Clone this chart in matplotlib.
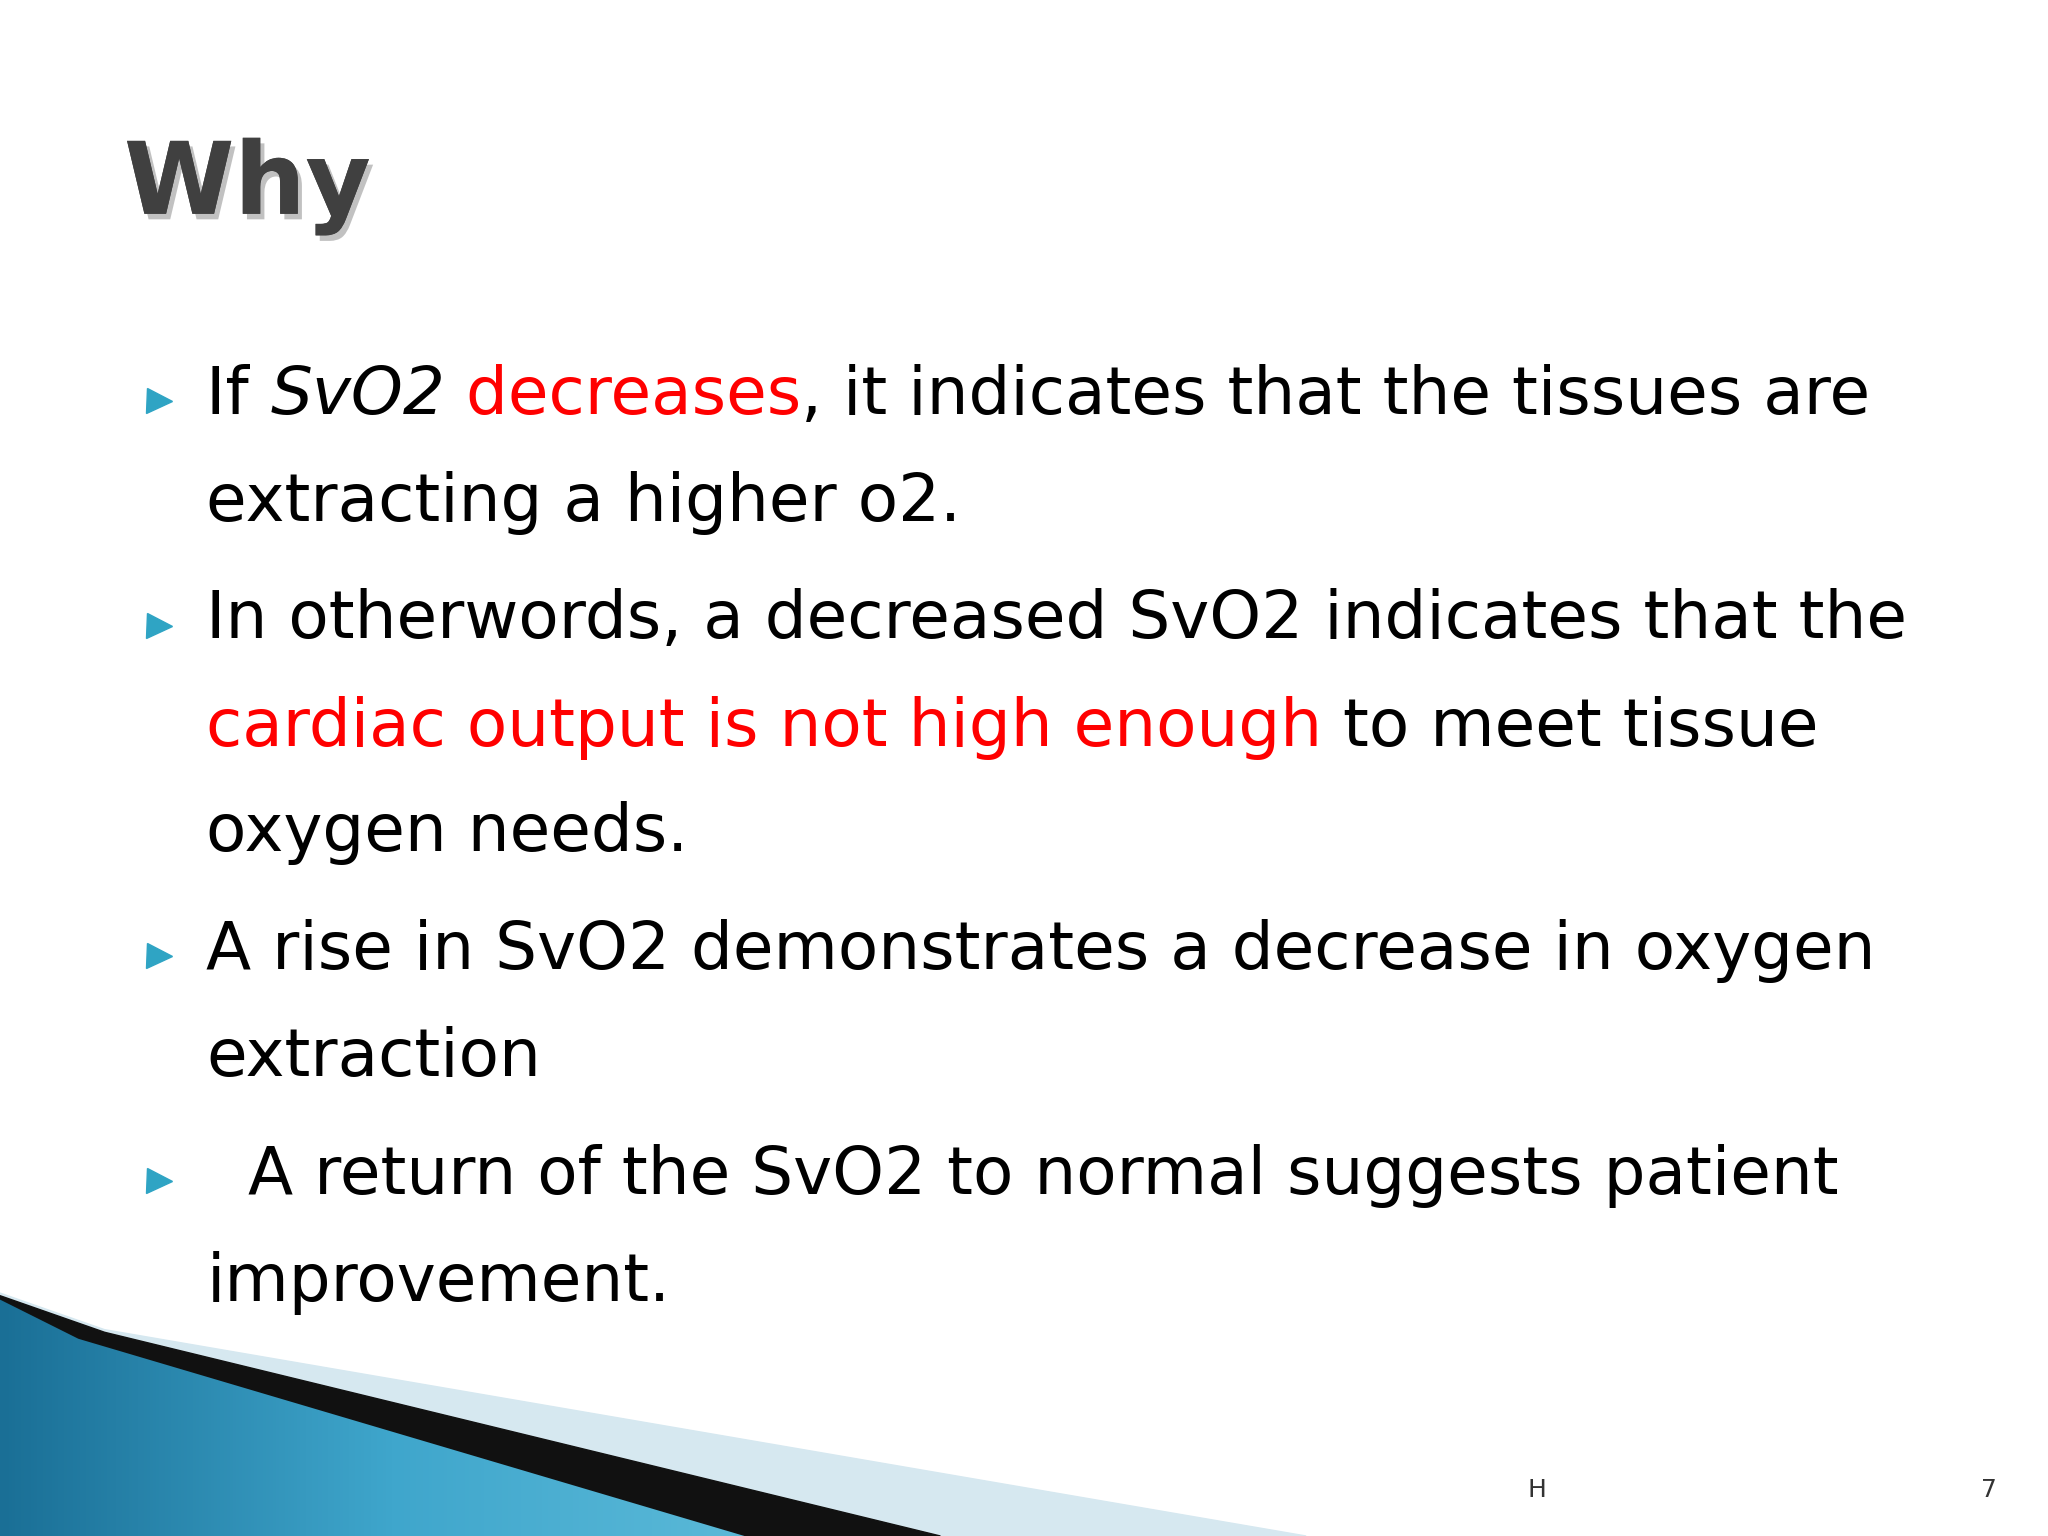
import matplotlib
matplotlib.use("Agg")
import matplotlib.pyplot as plt
import matplotlib.patheffects as pe
import numpy as np
from matplotlib.patches import Polygon

W, H = 1568, 1176
title = "Why"
bullet_rows = [0, 2, 5, 7]
lines = [
    [("If ", "k", "normal"), ("SvO2", "k", "italic"), (" decreases", "red", "normal"), (", it indicates that the tissues are", "k", "normal")],
    [("extracting a higher o2.", "k", "normal")],
    [("In otherwords, a decreased SvO2 indicates that the", "k", "normal")],
    [("cardiac output is not high enough", "red", "normal"), (" to meet tissue", "k", "normal")],
    [("oxygen needs.", "k", "normal")],
    [("A rise in SvO2 demonstrates a decrease in oxygen", "k", "normal")],
    [("extraction", "k", "normal")],
    [("  A return of the SvO2 to normal suggests patient", "k", "normal")],
    [("improvement.", "k", "normal")],
]
line_y = [303, 385, 475, 557, 638, 728, 810, 900, 982]
footer_left, footer_right = "H", "7"

fig = plt.figure(figsize=(20.48, 15.36), dpi=100)
ax = fig.add_axes([0, 0, 1, 1])
ax.set_xlim(0, W); ax.set_ylim(H, 0); ax.axis("off")

# decoration bottom-left
ax.add_patch(Polygon([[0, 990], [0, H], [1000, H], [80, 1018]], closed=True, color="#d6e8f0", zorder=1))
ax.add_patch(Polygon([[0, 992], [0, H], [720, H], [80, 1020]], closed=True, color="#111111", zorder=2))
grad = np.linspace(0, 1, 256).reshape(1, -1)
im = ax.imshow(np.vstack([grad, grad]), extent=[0, 600, H, 990], cmap=matplotlib.colors.LinearSegmentedColormap.from_list("b", ["#1a6f96", "#3fa6cc", "#5dbbd9"]), aspect="auto", zorder=3)
im.set_clip_path(Polygon([[0, 995], [0, H], [570, H], [60, 1025]], closed=True, transform=ax.transData))

# title with shadow
ax.text(95, 143, title, fontsize=72, fontweight="semibold", color="#404040", va="center", ha="left",
        family="DejaVu Sans", zorder=5,
        path_effects=[pe.withSimplePatchShadow(offset=(3, -4), shadow_rgbFace="#999999", alpha=0.6), pe.Normal()])

fs = 47.5
fig.canvas.draw()
r = fig.canvas.get_renderer()
inv = ax.transData.inverted()
for i, (segs, y) in enumerate(zip(lines, line_y)):
    x = 158
    for txt, col, st in segs:
        t = ax.text(x, y, txt, fontsize=fs, color=col, style=st, va="center", ha="left", family="DejaVu Sans", zorder=6)
        bb = t.get_window_extent(renderer=r)
        x0 = inv.transform((bb.x0, 0))[0]
        x1 = inv.transform((bb.x1, 0))[0]
        x = x + (x1 - x0)
    if i in bullet_rows:
        ax.plot(122, y + 4, marker=">", markersize=18, color="#2fa4c4", zorder=6)

ax.text(1177, 1141, footer_left, fontsize=18, ha="center", va="center", color="#333333")
ax.text(1523, 1141, footer_right, fontsize=18, ha="center", va="center", color="#333333")

fig.savefig("out.png", dpi=100)
